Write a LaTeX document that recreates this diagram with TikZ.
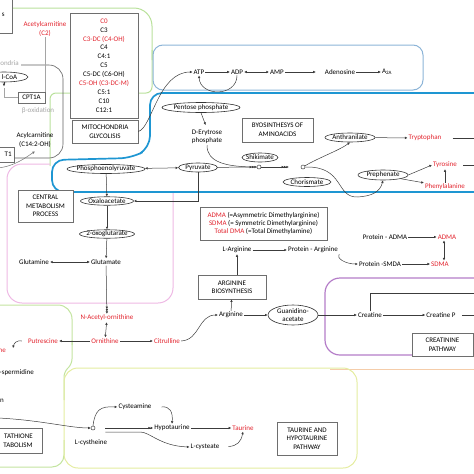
\documentclass[tikz,border=0pt]{standalone}
\usepackage{fontspec}
\setmainfont{Carlito}
\usetikzlibrary{arrows.meta,shapes.geometric}
\definecolor{myred}{RGB}{226,35,45}
\definecolor{cline}{RGB}{60,60,60}
\definecolor{lgray}{RGB}{165,165,165}
\definecolor{boxc}{RGB}{110,110,110}
\definecolor{gtopc}{RGB}{185,225,155}
\definecolor{gbotc}{RGB}{195,228,160}
\definecolor{bluec}{RGB}{30,150,210}
\definecolor{lbluec}{RGB}{140,180,215}
\definecolor{pinkc}{RGB}{238,185,228}
\definecolor{purpc}{RGB}{180,125,200}
\definecolor{yelc}{RGB}{228,236,160}
\definecolor{orgc}{RGB}{245,205,170}
\definecolor{mgrayc}{RGB}{95,95,95}
\begin{document}
\begin{tikzpicture}[x=1pt,y=-1pt,
  every node/.style={font=\fontsize{7}{8.5}\selectfont, inner sep=1pt},
  lbl/.style={text=black},
  rlbl/.style={text=myred},
  glbl/.style={text=lgray},
  boxn/.style={draw=boxc, fill=white, align=center, line width=0.6pt, inner sep=1pt},
  ell/.style={draw=black!80, ellipse, fill=white, inner xsep=-4pt, inner ysep=-1.5pt, line width=0.6pt},
  dot/.style={circle, draw=cline, fill=white, inner sep=0pt, minimum size=4pt, line width=0.5pt},
  con/.style={draw=cline, line width=0.5pt},
  arr/.style={con, -{Latex[length=2.6pt,width=2.6pt]}},
  arrb/.style={con, {Latex[length=2.6pt,width=2.6pt]}-{Latex[length=2.6pt,width=2.6pt]}},
  tri/.style={con, -{Latex[length=2.4pt,width=2.6pt]Latex[length=2.4pt,width=2.6pt]Latex[length=2.4pt,width=2.6pt]}},
  dbl/.style={con, -{Latex[length=2.4pt,width=2.6pt]Latex[length=2.4pt,width=2.6pt]}},
  gline/.style={draw=lgray, line width=0.6pt},
  garr/.style={draw=lgray!70!black, line width=0.5pt, -{Latex[length=2.6pt,width=2.6pt]}},
  region/.style={line width=1pt}
]
\useasboundingbox (0,0) rectangle (474,474);
\clip (0,0) rectangle (474,474);

% ---------- regions ----------
\draw[region, draw=gtopc, rounded corners=18pt] (-10,8) -- (152,8) -- (152,60);
\draw[region, draw=gtopc, rounded corners=6pt] (152,50) -- (152,93) -- (50,93) -- (50,166);
\draw[region, draw=gbotc, rounded corners=14pt] (-10,305) -- (72,305) -- (72,345);
\draw[region, draw=gbotc, rounded corners=5pt] (72,340) -- (72,364) -- (64,372) -- (64,400);
\draw[region, draw=gbotc, rounded corners=12pt] (64,440) -- (64,467) -- (-10,467);
\draw[region, draw=orgc] (330,369) -- (480,369);
\draw[region, draw=yelc, rounded corners=14pt] (64,368) rectangle (357,468);
\draw[line width=1.2pt, draw=purpc, rounded corners=15pt] (325,278) rectangle (500,355);
\draw[region, draw=pinkc, rounded corners=15pt] (50,164) -- (7,164) -- (7,303) -- (173,303) -- (173,193);
\draw[region, draw=lbluec, rounded corners=10pt] (153,45) rectangle (423,90);
\draw[line width=1.7pt, draw=bluec, rounded corners=12pt] (480,93) -- (150,93) -- (150,148) -- (132,158) -- (52,160) -- (52,192) -- (480,192);
\draw[line width=0.6pt, draw=mgrayc, rounded corners=14pt] (21,65) -- (63,65) -- (63,158) -- (15,158);

% ---------- nodes: carnitines / mitochondria ----------
\node[boxn, anchor=east, minimum height=36pt, text width=30pt, align=right, inner xsep=8pt] (fatty) at (13,15) {s};
\node[rlbl, align=center] (acetyl) at (45,29) {Acetylcarnitine\\(C2)};
\node[boxn, minimum width=68pt, minimum height=105pt, font=\fontsize{7}{8.9}\selectfont] (clist) at (104,65.5)
  {\textcolor{myred}{C0}\\C3\\\textcolor{myred}{C3-DC (C4-OH)}\\C4\\C4:1\\C5\\C5-DC (C6-OH)\\\textcolor{myred}{C5-OH (C3-DC-M)}\\C5:1\\C10\\C12:1};
\node[boxn, minimum width=66pt, minimum height=23pt] (mito) at (105,131.5) {MITOCHONDRIA\\GLYCOLISIS};
\node[glbl, anchor=south east] (mitolbl) at (20,67) {ondria};
\node[ell, minimum width=48pt, minimum height=10pt] (acyl) at (4,77) {};
\node[lbl] (acyltxt) at (9.5,77) {l-CoA};
\node[boxn, minimum width=27pt, minimum height=11pt] (cpt) at (31.5,97.5) {CPT1A};
\node[glbl] (boxid) at (38,111) {β-oxidation};
\node[lbl, align=center] (acyc) at (35,140) {Acylcarnitine\\(C14:2-OH)};
\node[boxn, anchor=east, minimum height=15pt, text width=20pt, align=right, inner xsep=3pt] (cpt1) at (15,154.5) {T1};
\coordinate (fromleft) at (-2,168);

% ---------- ATP ----------
\node[lbl] (atp) at (199,72) {ATP};
\node[lbl] (adp) at (237,72) {ADP};
\node[lbl] (amp) at (277,72) {AMP};
\node[lbl] (ado) at (340,72) {Adenosine};
\node[lbl] (a2a) at (387,72) {A\textsubscript{2A}};

% ---------- amino acids ----------
\node[ell, minimum width=78pt, minimum height=10pt] (pent) at (201,107.5) {Pentose phosphate};
\node[lbl, align=center] (derp) at (207,137) {D-Erytrose\\phosphate};
\node[boxn, minimum width=71pt, minimum height=24pt] (byo) at (277.5,130) {BYOSINTHESYS OF\\AMINOACIDS};
\node[ell, minimum width=36pt, minimum height=9pt] (shik) at (260,157.5) {Shikimate};
\node[dot] (c1) at (259,167) {};
\node[dot] (c2) at (303,167) {};
\node[ell, minimum width=48pt, minimum height=9pt] (chor) at (307,182) {Chorismate};
\node[ell, minimum width=50pt, minimum height=9pt] (anth) at (350,137.5) {Anthranilate};
\node[rlbl] (tryp) at (425,138) {Tryptophan};
\node[ell, minimum width=50pt, minimum height=10pt] (preph) at (383,175) {Prephenate};
\node[rlbl] (tyr) at (445,165) {Tyrosine};
\node[rlbl] (phe) at (445,187) {Phenylalanine};
\node[ell, minimum width=78pt, minimum height=9pt] (pep) at (106,169) {Phosphoenolyruvate};
\node[ell, minimum width=39pt, minimum height=9pt] (pyr) at (198,167.5) {Pyruvate};
\coordinate (tryend) at (480,138);
\coordinate (tyrend) at (480,165);

% ---------- central metabolism ----------
\node[boxn, minimum width=55pt, minimum height=32pt] (cent) at (45.5,206) {CENTRAL\\METABOLISM\\PROCESS};
\node[ell, minimum width=53pt, minimum height=8.5pt] (oxa) at (107,201) {Oxaloacetate};
\node[ell, minimum width=55pt, minimum height=8.5pt] (oxo) at (107,234) {2-oxoglutarate};
\node[lbl] (glu) at (106,262) {Glutamate};
\node[lbl] (gln) at (34,262) {Glutamine};
\node[rlbl] (nao) at (107,318) {N-Acetyl-ornithine};
\node[rlbl] (orn) at (105,341) {Ornithine};
\node[rlbl] (put) at (43,341) {Putrescine};
\node[rlbl, anchor=east] (sperm) at (7,351) {ne};
\node[rlbl] (cit) at (167,341) {Citrulline};
\node[lbl, anchor=east] (nas) at (35,373) {-spermidine};
\node[lbl, anchor=east] (gshn) at (5,401) {n};

% ---------- taurine ----------
\node[dot] (c3) at (93,428) {};
\node[lbl] (lcys) at (91,443) {L-cystheine};
\node[lbl] (cyst) at (135,407) {Cysteamine};
\node[lbl] (hypo) at (172,428) {Hypotaurine};
\node[lbl] (lcyst) at (205,447) {L-cysteate};
\node[rlbl] (taur) at (243,428) {Taurine};
\node[boxn, minimum width=60pt, minimum height=33pt] (taubox) at (307,438.5) {TAURINE AND\\HYPOTAURINE\\PATHWAY};
\node[boxn, anchor=east, minimum height=25pt, text width=50pt, align=right, inner xsep=10pt] (gsh) at (43,440.5) {TATHIONE\\TABOLISM};
\coordinate (gshin) at (-2,418);

% ---------- arginine / creatine ----------
\node[boxn, minimum width=127pt, minimum height=33pt] (dma) at (263.5,223.5)
  {\textcolor{myred}{ADMA} (=Asymmetric Dimethylarginine)\\\textcolor{myred}{SDMA} (= Symmetric Dimethylarginine)\\\textcolor{myred}{Total DMA} (=Total Dimethylamine)};
\node[lbl] (larg) at (237,250) {L-Arginine};
\node[lbl] (parg) at (313,250) {Protein - Arginine};
\node[boxn, minimum width=68pt, minimum height=24pt] (argbox) at (232,287) {ARGININE\\BIOSYNTHESIS};
\node[lbl] (arg) at (231,315) {Arginine};
\node[ell, align=center, minimum width=50pt, minimum height=20pt, font=\fontsize{7}{7.5}\selectfont] (guan) at (293,315) {Guanidino-\\acetate};
\node[lbl] (crea) at (370,315) {Creatine};
\node[lbl] (creap) at (441,315) {Creatine P};
\node[boxn, minimum width=61pt, minimum height=23pt] (crbox) at (442.5,344.5) {CREATININE\\PATHWAY};
\node[lbl] (padma) at (385,237) {Protein - ADMA};
\node[rlbl] (adma) at (447,237) {ADMA};
\node[lbl] (psdma) at (380,264) {Protein -SMDA};
\node[rlbl] (sdma) at (440,264) {SDMA};
\coordinate (creend) at (480,315);
\coordinate (brkend) at (480,293);

% ---------- connectors ----------
\draw[gline] (acetyl.south) -- (acetyl.south |- cpt.north);
\draw[arr] (acyl.south) -- ([yshift=-4pt]acyl.south);
\draw[gline] ([yshift=-6pt]acyl.south) |- (cpt.west);
\draw[garr] (fromleft) .. controls (15,166) and (25,158) .. ([yshift=-3pt]acyc.south);

\draw[arr] (atp) -- (adp);
\draw[arrb] (adp) -- (amp);
\draw[arr, shorten >=8pt] (amp) -- (ado);
\draw[arr] (ado) -- (a2a);
\draw[arr] (adp.south) .. controls (237,97) and (200,97) .. (atp.south);
\draw[arr] (mito.east) .. controls (152,128) and (158,72) .. (atp.west);

\draw[arr, shorten >=4pt] (pent.south) -- (derp.north);
\draw[con] (derp.south) .. controls (207,162) and (225,167) .. (c1.west);
\draw[arrb] (pep) -- (pyr);
\draw[tri] (pyr) -- (c1);
\draw[tri, shorten >=12pt] (c1) -- (c2);
\draw[arr] (c2) .. controls (318,158) and (340,150) .. (anth.south);
\draw[arr] (c2.east) .. controls (345,166) and (335,198) .. (358,197) .. controls (372,196) and (380,192) .. (preph.south);
\draw[arr] (anth) -- (tryp);
\draw[con, shorten <=10pt] (tryp.east) -- (tryend);
\draw[arr] (preph.east) -- (tyr.west);
\draw[arr] (preph.south east) -- (phe.north west);
\draw[arr] (phe.north) -- (tyr.south);
\draw[con, shorten <=5pt] (tyr.east) -- (tyrend);

\draw[arr] (pep) -- (oxa);
\draw[arr] (pyr.south) |- (oxa.east);
\draw[arr] (oxa) -- (oxo);
\draw[arr] (oxo) -- (glu);
\draw[arrb] (gln) -- (glu);
\draw[tri] (glu) -- (nao);
\draw[arrb] (nao) -- (orn);
\draw[arr] (orn) -- (put);
\draw[arr] (orn) -- (cit);
\draw[arr] ([xshift=-5pt]put.west) .. controls (17,340) and (14,343) .. ([xshift=6pt]sperm.north east);

\draw[arr] (cit.east) .. controls (200,340) and (198,315) .. (arg.west);
\draw[arr] (argbox.north -| larg.south) -- (larg.south);
\draw[arr] (arg) -- (argbox);
\draw[arr] (larg) -- (parg);
\draw[arr] (arg) -- (guan);
\draw[arr] (guan) -- (crea);
\draw[arr] (crea) -- (creap);
\draw[con, shorten <=5pt] (creap.east) -- (creend);
\draw[con] (crea.north) |- (brkend);
\draw[arr] (padma) -- (adma);
\draw[arr] (psdma) -- (sdma);
\draw[arrb] ([xshift=-3pt]adma.south) -- ([xshift=4pt]sdma.north);
\draw[arr] (parg.south east) .. controls (336,258) and (345,264) .. (psdma.west);

\draw[arr] (gshin) .. controls (40,420) and (70,428) .. (c3.west);
\draw[arr] (c3.north) .. controls (95,410) and (100,406) .. (cyst.west);
\draw[arr] ([xshift=9pt]cyst.east) .. controls (170,406) and (173,412) .. (hypo.north);
\draw[dbl] ([xshift=10pt]c3.east) -- (hypo.west);
\draw[arr] ([xshift=10pt,yshift=-4pt]c3.east) -- ++(35,0) .. controls (150,432) and (160,446) .. (lcyst.west);
\draw[arr] (hypo) -- (taur);
\draw[arr, shorten <=8pt] (lcyst.east) .. controls (237,446) and (241,442) .. (taur.south);
\end{tikzpicture}
\end{document}
